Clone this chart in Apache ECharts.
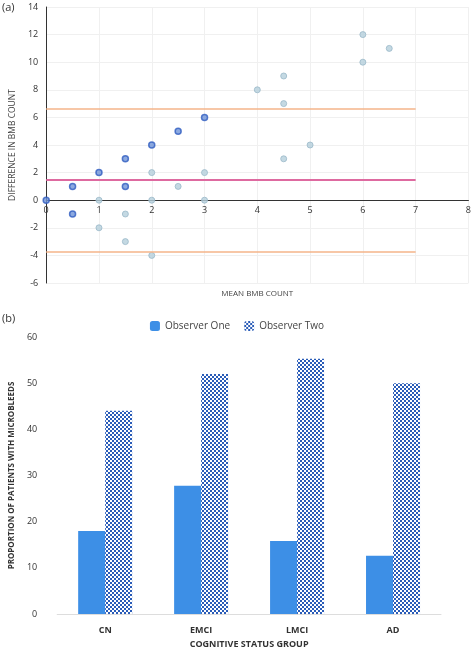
<!DOCTYPE html>
<html><head><meta charset="utf-8">
<script src="https://cdn.jsdelivr.net/npm/echarts@6/dist/echarts.min.js"></script>
<style>body{margin:0;background:#fff}#main{width:474px;height:650px}</style>
</head><body><div id="main"></div>
<script>
var darkPoints = [[0,0],[0.5,1],[0.5,-1],[1,2],[1.5,3],[1.5,1],[2,4],[2.5,5],[3,6]];
var lightPoints = [[1,0],[1,-2],[1.5,-1],[1.5,-3],[2,2],[2,0],[2,-4],[2.5,1],[3,2],[3,0],
    [4,8],[4.5,9],[4.5,7],[4.5,3],[5,4],[6,12],[6,10],[6.5,11]];
var meanDiff = 1.5, upperLoA = 6.6, lowerLoA = -3.7;
var groups = ['CN', 'EMCI', 'LMCI', 'AD'];
var observerOne = [18, 27.8, 15.8, 12.6];
var observerTwo = [44, 52, 55.3, 50];

// checkered fill for observer two
var pat = document.createElement('canvas');
pat.width = 4; pat.height = 4;
var ctx = pat.getContext('2d');
ctx.fillStyle = '#ffffff'; ctx.fillRect(0, 0, 4, 4);
ctx.fillStyle = '#2a5cb8';
ctx.fillRect(0, 0, 2, 2); ctx.fillRect(2, 2, 2, 2);

var myChart = echarts.init(document.getElementById('main'));
var font = 'Open Sans';
var option = {
    textStyle: {fontFamily: font},
    graphic: [
        {type: 'text', left: 2, top: 2, style: {text: '(a)', fontSize: 11, fill: '#333', fontFamily: font}},
        {type: 'text', left: 2, top: 313, style: {text: '(b)', fontSize: 11, fill: '#333', fontFamily: font}}
    ],
    legend: {
        top: 316, left: 'center', itemWidth: 10, itemHeight: 10, itemGap: 14,
        textStyle: {fontSize: 10, color: '#444'},
        data: ['Observer One', 'Observer Two']
    },
    grid: [
        {left: 39, right: 4, top: 7, height: 276},
        {left: 57, right: 33, top: 337, height: 277}
    ],
    xAxis: [{
        gridIndex: 0, type: 'value', min: 0, max: 8, interval: 1,
        offset: -82.8,
        name: 'MEAN BMB COUNT', nameLocation: 'middle', nameGap: 90,
        nameTextStyle: {fontSize: 8, color: '#444'},
        axisLine: {onZero: false, lineStyle: {color: '#333'}},
        axisTick: {show: false},
        axisLabel: {fontSize: 9, color: '#333', margin: 6},
        splitLine: {lineStyle: {color: '#f0f0f0'}}
    }, {
        gridIndex: 1, type: 'category', data: groups,
        name: 'COGNITIVE STATUS GROUP', nameLocation: 'middle', nameGap: 26,
        nameTextStyle: {fontSize: 9, fontWeight: 'bold', color: '#333'},
        axisLine: {lineStyle: {color: '#ddd'}}, axisTick: {show: false},
        axisLabel: {fontSize: 9, fontWeight: 'bold', color: '#333', margin: 12}
    }],
    yAxis: [{
        gridIndex: 0, type: 'value', min: -6, max: 14, interval: 2,
        name: 'DIFFERENCE IN BMB COUNT', nameLocation: 'middle', nameGap: 28,
        nameTextStyle: {fontSize: 8.5, color: '#444'},
        axisLine: {show: true, lineStyle: {color: '#333'}}, axisTick: {show: false},
        axisLabel: {fontSize: 9, color: '#333'},
        splitLine: {lineStyle: {color: '#f0f0f0'}}
    }, {
        gridIndex: 1, type: 'value', min: 0, max: 60, interval: 10,
        name: 'PROPORTION OF PATIENTS WITH MICROBLEEDS', nameLocation: 'middle', nameGap: 36,
        nameTextStyle: {fontSize: 8, fontWeight: 'bold', color: '#333'},
        axisLine: {show: false}, axisTick: {show: false},
        axisLabel: {fontSize: 9, color: '#333', margin: 20},
        splitLine: {show: false}
    }],
    series: [{
        type: 'scatter', xAxisIndex: 0, yAxisIndex: 0, data: lightPoints, symbolSize: 6,
        itemStyle: {color: '#b5cfdc', borderColor: '#9ab8c8', borderWidth: 1},
        markLine: {
            silent: true, symbol: 'none', label: {show: false},
            data: [
                [{coord: [0, upperLoA], lineStyle: {color: '#f5b58a', width: 1.5}}, {coord: [7, upperLoA]}],
                [{coord: [0, meanDiff], lineStyle: {color: '#de6aa0', width: 2}}, {coord: [7, meanDiff]}],
                [{coord: [0, lowerLoA], lineStyle: {color: '#f5b58a', width: 1.5}}, {coord: [7, lowerLoA]}]
            ],
            lineStyle: {type: 'solid'}
        }
    }, {
        type: 'scatter', xAxisIndex: 0, yAxisIndex: 0, data: darkPoints, symbolSize: 6,
        itemStyle: {color: '#6f93d8', borderColor: '#2f5cc0', borderWidth: 1.5}
    }, {
        name: 'Observer One', type: 'bar', xAxisIndex: 1, yAxisIndex: 1,
        data: observerOne, barWidth: 27, barGap: '0%',
        itemStyle: {color: '#3d8fe6'}
    }, {
        name: 'Observer Two', type: 'bar', xAxisIndex: 1, yAxisIndex: 1,
        data: observerTwo, barWidth: 27, barGap: '0%',
        itemStyle: {color: {image: pat, repeat: 'repeat'}}
    }]
};
myChart.setOption(option);
</script></body></html>
